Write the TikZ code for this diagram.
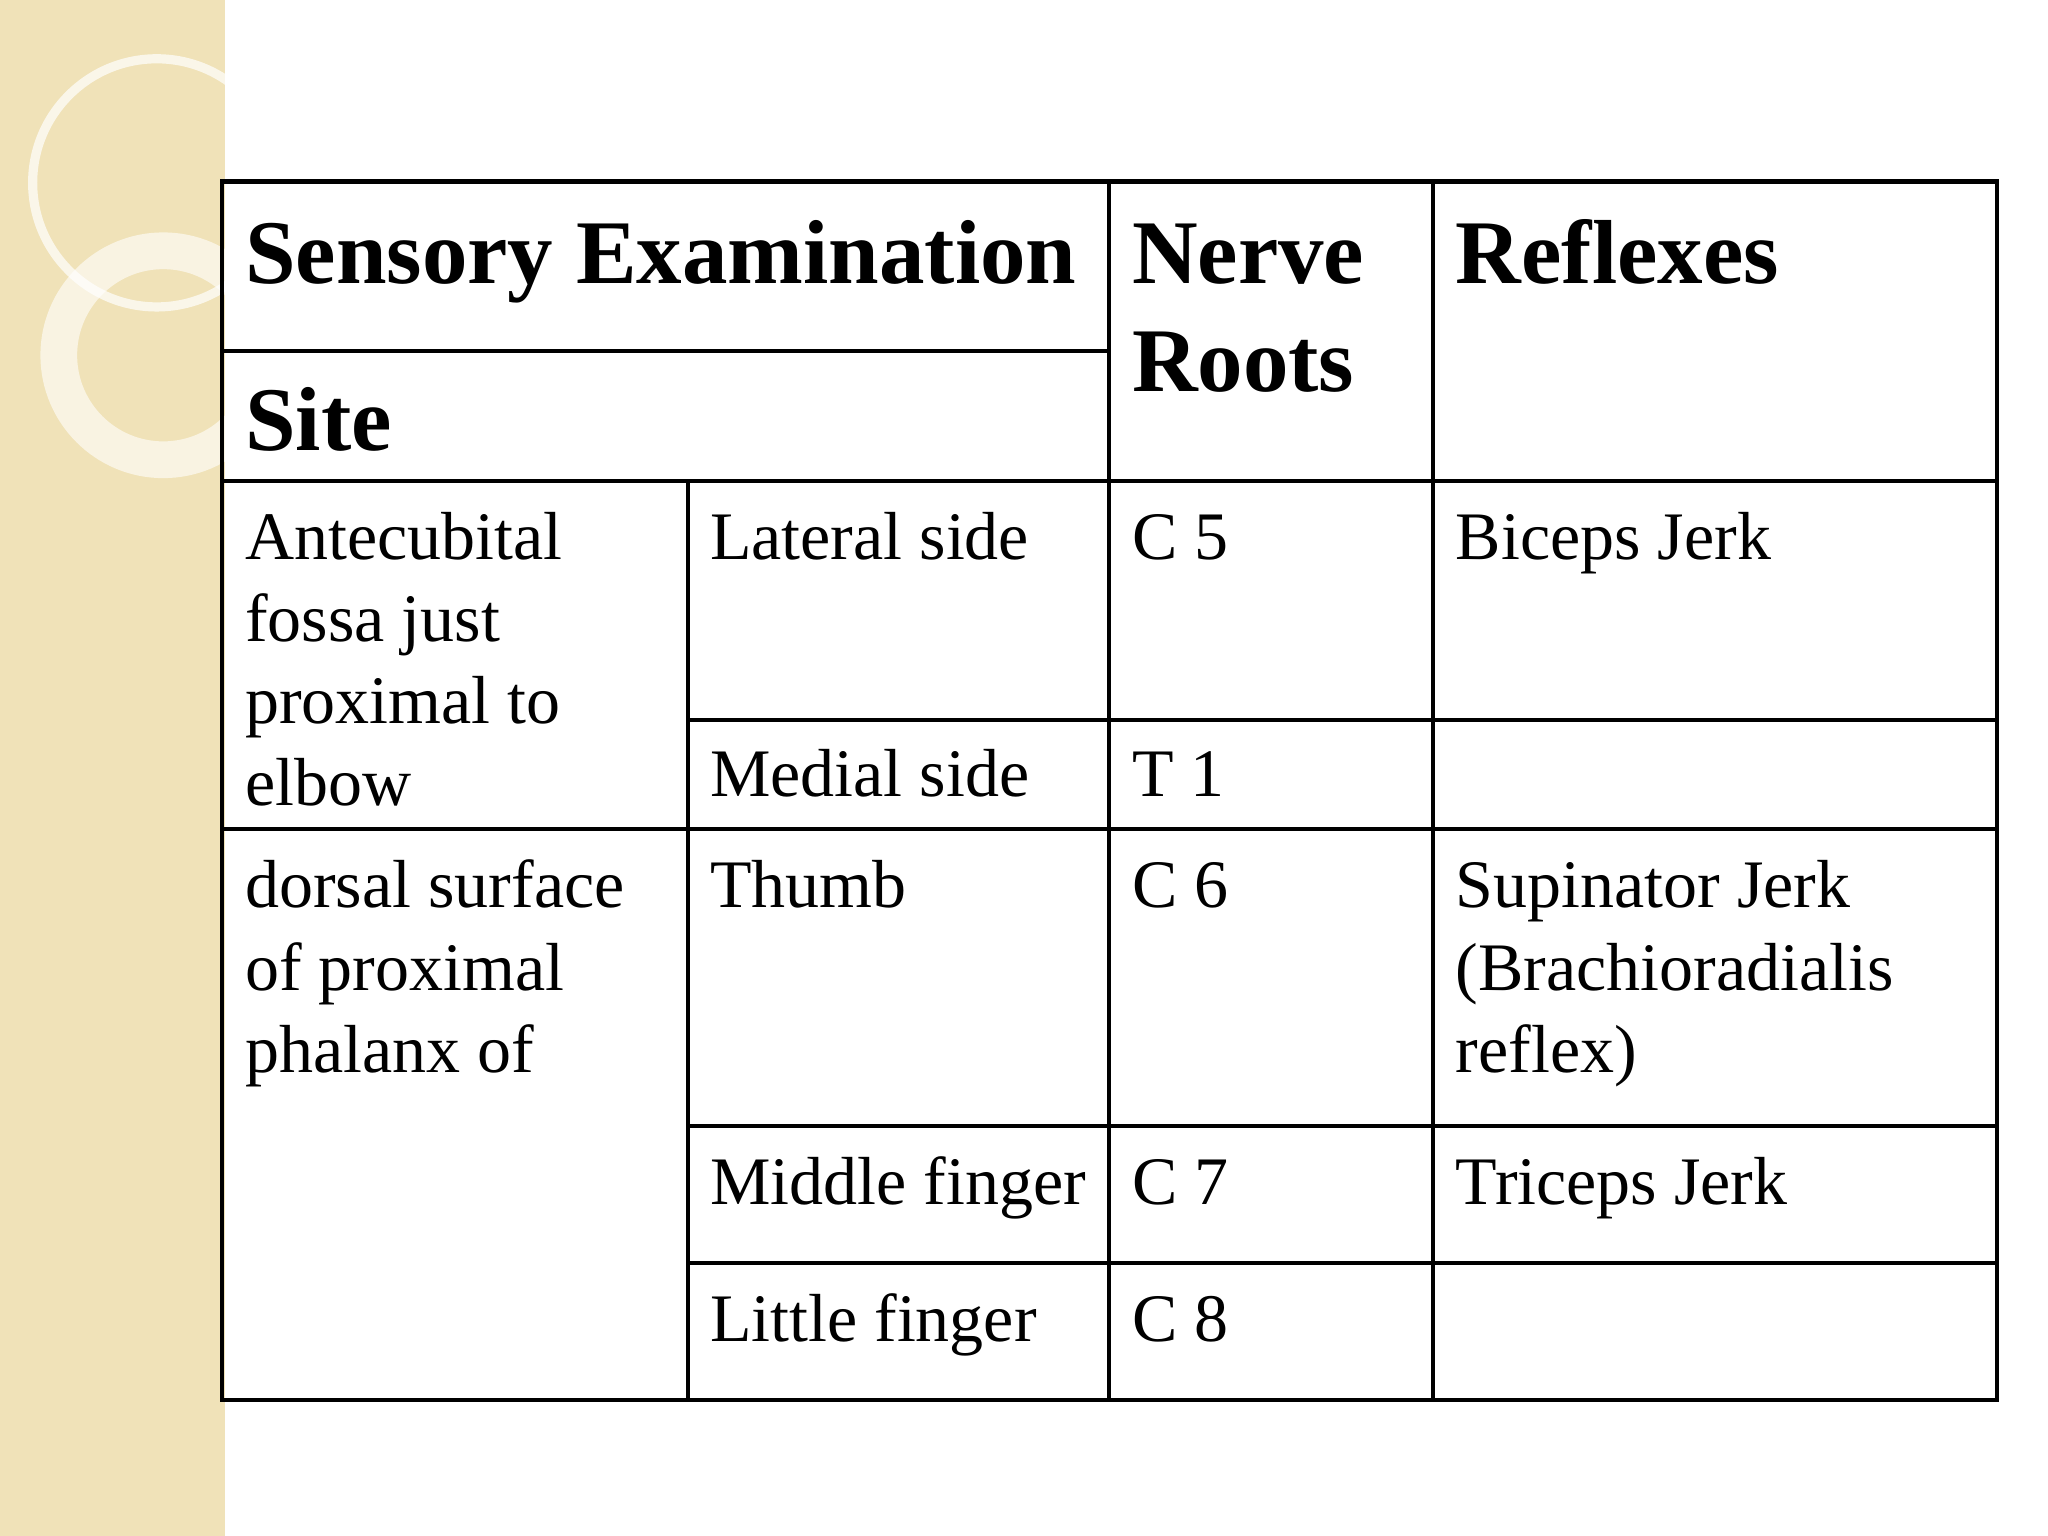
\documentclass[tikz,border=0pt]{standalone}
\usepackage{fontspec}
\setmainfont{Liberation Serif}
\definecolor{strip}{RGB}{240,226,184}
\begin{document}
\begin{tikzpicture}[x=0.01cm,y=-0.01cm,
  head/.style={anchor=base west,inner sep=0,font=\fontsize{19.8}{23.6}\selectfont\bfseries,align=left},
  cell/.style={anchor=base west,inner sep=0,font=\fontsize{14.8}{17.9}\selectfont,align=left},
  grid/.style={line width=0.9pt}]
\useasboundingbox (0,0) rectangle (1568,1176);
% background strip
\fill[strip] (0,0) rectangle (172,1176);
\draw[white,line width=2pt,opacity=0.7] (120,140) circle (95);
\draw[white,line width=8pt,opacity=0.6] (125,272) circle (80);
% grid
\draw[grid] (170,139) rectangle (1529,1072);
\draw[grid] (170,269) -- (849,269);
\draw[grid] (170,368) -- (1529,368);
\draw[grid] (527,551) -- (1529,551);
\draw[grid] (170,635) -- (1529,635);
\draw[grid] (527,862) -- (1529,862);
\draw[grid] (527,967) -- (1529,967);
\draw[grid] (527,368) -- (527,1072);
\draw[grid] (849,139) -- (849,1072);
\draw[grid] (1097,139) -- (1097,1072);
% header (multi-line nodes sit on their last baseline)
\node[head] (sens) at (187,217) {Sensory Examination};
\node[head] (site) at (187,345) {Site};
\node[head] (nerve) at (866,300) {Nerve\\Roots};
\node[head] (refl) at (1114,217) {Reflexes};
% body
\node[cell] (ante) at (187,617) {Antecubital\\fossa just\\proximal to\\elbow};
\node[cell] (lat) at (543,428) {Lateral side};
\node[cell] (c5) at (866,428) {C 5};
\node[cell] (bic) at (1114,428) {Biceps Jerk};
\node[cell] (med) at (543,610) {Medial side};
\node[cell] (t1) at (866,610) {T 1};
\node[cell] (dors) at (187,821) {dorsal surface\\of proximal\\phalanx of};
\node[cell] (thumb) at (543,695) {Thumb};
\node[cell] (c6) at (866,695) {C 6};
\node[cell] (sup) at (1114,821) {Supinator Jerk\\(Brachioradialis\\reflex)};
\node[cell] (mid) at (543,922) {Middle finger};
\node[cell] (c7) at (866,922) {C 7};
\node[cell] (tri) at (1114,922) {Triceps Jerk};
\node[cell] (lit) at (543,1027) {Little finger};
\node[cell] (c8) at (866,1027) {C 8};
\end{tikzpicture}
\end{document}
